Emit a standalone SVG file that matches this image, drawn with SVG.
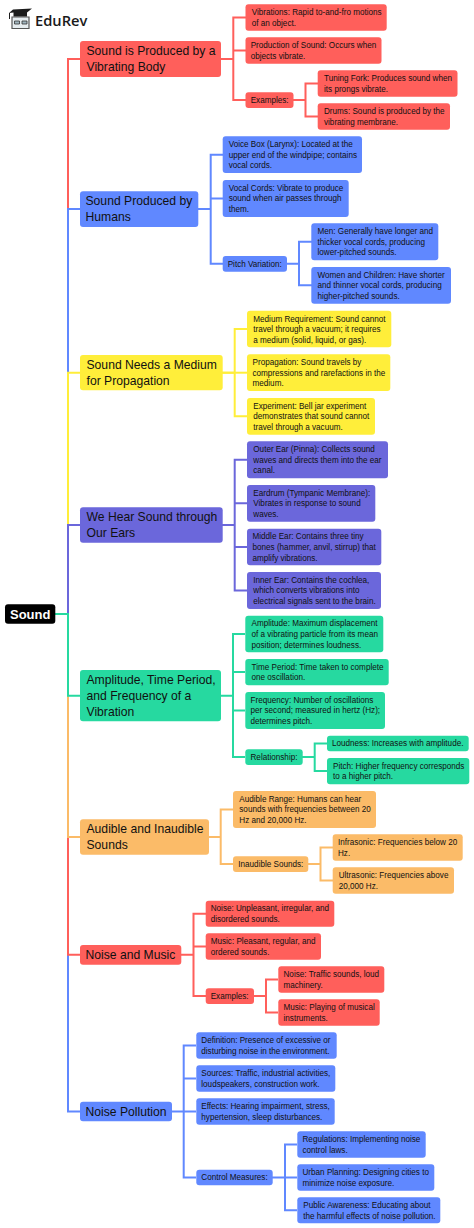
<svg xmlns="http://www.w3.org/2000/svg" width="474" height="1228" viewBox="0 0 474 1228">
<style>
text{font-family:"Liberation Sans",Arial,sans-serif;fill:#111}
.t1{font-size:12.17px}
.t2{font-size:8.13px}
.root{font-size:13px;font-weight:bold;fill:#fff}
.brand{font-family:"Open Sans","Noto Sans",sans-serif;font-size:14.7px;font-weight:600;fill:#1a1a1a}
rect{rx:3px;ry:3px}
.c path{fill:none;stroke-width:2}
.red{fill:#ff5f5b}.blue{fill:#6088ff}.yel{fill:#ffee3a}.pur{fill:#6b67db}.grn{fill:#26d9a0}.org{fill:#fbbb68}
.sr{stroke:#ff5f5b}.sb{stroke:#6088ff}.sy{stroke:#ffee3a}.sp{stroke:#6b67db}.sg{stroke:#26d9a0}.so{stroke:#fbbb68}
</style>
<g id="logo">
<path d="M12 17 H29 V28.500 H12 Z" fill="#e6edf0" stroke="#555" stroke-width="1.200"/>
<path d="M14.500 21 h5 v3 h-5 Z M22 21 h5 v3 h-5 Z" fill="#9fb4bd" stroke="#333" stroke-width=".8"/>
<path d="M13 9.500 L32 8.500 L27 12.500 V16.500 H13.500 V12.500 L9 13 Z" fill="#1c1c1c"/>
<path d="M9.500 13 V19" stroke="#1c1c1c" stroke-width="1"/>
<text class="brand" x="35" y="26">EduRev</text>
</g>
<g id="connectors" class="c">
<path class="sr" d="M55 614H68V59H80"/>
<path class="sb" d="M55 614H68V209H80"/>
<path class="sy" d="M55 614H68V372.700H80"/>
<path class="sp" d="M55 614H68V525H80"/>
<path class="sb" d="M55 614H68V1111.500H80"/>
<path class="sr" d="M55 614H68V954.800H80"/>
<path class="so" d="M55 614H68V837H80"/>
<path class="sg" d="M55 614H68V695.700H80"/>
<path class="sr" d="M221 59H233.300V17.500H246M221 59H233.300V50.500H246M221 59H233.300V100H246"/>
<path class="sr" d="M293 100H305.500V83.500H318M293 100H305.500V116.500H318"/>
<path class="sb" d="M198 209H210.700V154.700H223M198 209H210.700V198.500H223M198 209H210.700V263.800H223"/>
<path class="sb" d="M287 263.800H299V241.800H312M287 263.800H299V285.300H312"/>
<path class="sy" d="M222 372.700H234.700V329H247M222 372.700H234.700V416.300H247"/>
<path class="sy" d="M222 372.700H247"/>
<path class="sp" d="M222 525H234.700V459.800H247M222 525H234.700V503.300H247M222 525H234.700V547H247M222 525H234.700V590.500H247"/>
<path class="sg" d="M221 695.700H233V634H245M221 695.700H233V672H245M221 695.700H233V710.500H245M221 695.700H233V757H245"/>
<path class="sg" d="M302 757H314.700V743.500H327M302 757H314.700V771H327"/>
<path class="so" d="M209 837H220.700V809.500H233M209 837H220.700V864H233"/>
<path class="so" d="M308 864H320.500V847.500H333M308 864H320.500V880.500H333"/>
<path class="sr" d="M181 954.800H193.500V913.700H206M181 954.800H193.500V946.500H206M181 954.800H193.500V996H206"/>
<path class="sr" d="M254 996H266V979.500H278M254 996H266V1012.500H278"/>
<path class="sb" d="M172 1111.500H183.700V1045.500H196M172 1111.500H183.700V1078.500H196M172 1111.500H196M172 1111.500H183.700V1177.500H196"/>
<path class="sb" d="M272 1177.500H285V1144.500H297M272 1177.500H297M272 1177.500H285V1210.300H297"/>
</g>
<g id="root"><rect x="5" y="604.300" width="50.300" height="19.400" style="fill:#000"/><text class="root" x="10" y="618.600">Sound</text></g>

<g id="n1"><rect class="red" x="80" y="41" width="141" height="36"/><text class="t1" x="86.500" y="54.800">Sound is Produced by a<tspan x="86.500" dy="16">Vibrating Body</tspan></text></g>
<g id="n1-1"><rect class="red" x="245.500" y="4.300" width="141.200" height="26.400"/><text class="t2" x="251.700" y="15.200">Vibrations: Rapid to-and-fro motions<tspan x="251.700" dy="10.670">of an object.</tspan></text></g>
<g id="n1-2"><rect class="red" x="245.500" y="37.300" width="136" height="26.400"/><text class="t2" x="250.700" y="48.200">Production of Sound: Occurs when<tspan x="250.700" dy="10.670">objects vibrate.</tspan></text></g>
<g id="n1-3"><rect class="red" x="245.500" y="92.300" width="48" height="15.700"/><text class="t2" x="250.700" y="103">Examples:</text></g>
<g id="n1-3-1"><rect class="red" x="317.700" y="70.300" width="139.800" height="26.400"/><text class="t2" x="324" y="81.200">Tuning Fork: Produces sound when<tspan x="324" dy="10.670">its prongs vibrate.</tspan></text></g>
<g id="n1-3-2"><rect class="red" x="317.700" y="103.300" width="132.300" height="26.400"/><text class="t2" x="324" y="114.200">Drums: Sound is produced by the<tspan x="324" dy="10.670">vibrating membrane.</tspan></text></g>

<g id="n2"><rect class="blue" x="80" y="191.300" width="118.300" height="35.700"/><text class="t1" x="85.500" y="205.100">Sound Produced by<tspan x="85.500" dy="16">Humans</tspan></text></g>
<g id="n2-1"><rect class="blue" x="222.700" y="136.300" width="139.300" height="36.700"/><text class="t2" x="228.700" y="147">Voice Box (Larynx): Located at the<tspan x="228.700" dy="10.670">upper end of the windpipe; contains</tspan><tspan x="228.700" dy="10.670">vocal cords.</tspan></text></g>
<g id="n2-2"><rect class="blue" x="222.700" y="180" width="126" height="37"/><text class="t2" x="228.700" y="190.600">Vocal Cords: Vibrate to produce<tspan x="228.700" dy="10.670">sound when air passes through</tspan><tspan x="228.700" dy="10.670">them.</tspan></text></g>
<g id="n2-3"><rect class="blue" x="222.700" y="256" width="64.300" height="15.700"/><text class="t2" x="227.700" y="266.700">Pitch Variation:</text></g>
<g id="n2-3-1"><rect class="blue" x="311.300" y="223.300" width="127" height="37"/><text class="t2" x="317.500" y="234">Men: Generally have longer and<tspan x="317.500" dy="10.670">thicker vocal cords, producing</tspan><tspan x="317.500" dy="10.670">lower-pitched sounds.</tspan></text></g>
<g id="n2-3-2"><rect class="blue" x="311.300" y="267" width="139.700" height="36.700"/><text class="t2" x="317.500" y="277.600">Women and Children: Have shorter<tspan x="317.500" dy="10.670">and thinner vocal cords, producing</tspan><tspan x="317.500" dy="10.670">higher-pitched sounds.</tspan></text></g>

<g id="n3"><rect class="yel" x="80" y="355" width="142.700" height="35.300"/><text class="t1" x="86.500" y="368.700">Sound Needs a Medium<tspan x="86.500" dy="16">for Propagation</tspan></text></g>
<g id="n3-1"><rect class="yel" x="247" y="310.700" width="144.300" height="36.600"/><text class="t2" x="253.300" y="321.500">Medium Requirement: Sound cannot<tspan x="253.300" dy="10.670">travel through a vacuum; it requires</tspan><tspan x="253.300" dy="10.670">a medium (solid, liquid, or gas).</tspan></text></g>
<g id="n3-2"><rect class="yel" x="247" y="354.300" width="143.300" height="36.700"/><text class="t2" x="252.500" y="365">Propagation: Sound travels by<tspan x="252.500" dy="10.670">compressions and rarefactions in the</tspan><tspan x="252.500" dy="10.670">medium.</tspan></text></g>
<g id="n3-3"><rect class="yel" x="247" y="398" width="128" height="36.700"/><text class="t2" x="253.300" y="408.700">Experiment: Bell jar experiment<tspan x="253.300" dy="10.670">demonstrates that sound cannot</tspan><tspan x="253.300" dy="10.670">travel through a vacuum.</tspan></text></g>

<g id="n4"><rect class="pur" x="80" y="507.300" width="142.700" height="35.400"/><text class="t1" x="86.500" y="521">We Hear Sound through<tspan x="86.500" dy="16">Our Ears</tspan></text></g>
<g id="n4-1"><rect class="pur" x="247" y="441.300" width="141" height="37"/><text class="t2" x="253.300" y="452">Outer Ear (Pinna): Collects sound<tspan x="253.300" dy="10.670">waves and directs them into the ear</tspan><tspan x="253.300" dy="10.670">canal.</tspan></text></g>
<g id="n4-2"><rect class="pur" x="247" y="485" width="128.300" height="36.700"/><text class="t2" x="253.300" y="495.600">Eardrum (Tympanic Membrane):<tspan x="253.300" dy="10.670">Vibrates in response to sound</tspan><tspan x="253.300" dy="10.670">waves.</tspan></text></g>
<g id="n4-3"><rect class="pur" x="247" y="528.700" width="134.300" height="36.600"/><text class="t2" x="252.500" y="539.300">Middle Ear: Contains three tiny<tspan x="252.500" dy="10.670">bones (hammer, anvil, stirrup) that</tspan><tspan x="252.500" dy="10.670">amplify vibrations.</tspan></text></g>
<g id="n4-4"><rect class="pur" x="247" y="572" width="134" height="37"/><text class="t2" x="253.300" y="582.700">Inner Ear: Contains the cochlea,<tspan x="253.300" dy="10.670">which converts vibrations into</tspan><tspan x="253.300" dy="10.670">electrical signals sent to the brain.</tspan></text></g>

<g id="n5"><rect class="grn" x="80" y="670" width="141" height="51.300"/><text class="t1" x="86.500" y="683.700">Amplitude, Time Period,<tspan x="86.500" dy="16">and Frequency of a</tspan><tspan x="86.500" dy="16">Vibration</tspan></text></g>
<g id="n5-1"><rect class="grn" x="245.300" y="615.700" width="138" height="36.600"/><text class="t2" x="251.500" y="626.300">Amplitude: Maximum displacement<tspan x="251.500" dy="10.670">of a vibrating particle from its mean</tspan><tspan x="251.500" dy="10.670">position; determines loudness.</tspan></text></g>
<g id="n5-2"><rect class="grn" x="245.300" y="659" width="143.400" height="26.300"/><text class="t2" x="251.500" y="669.700">Time Period: Time taken to complete<tspan x="251.500" dy="10.670">one oscillation.</tspan></text></g>
<g id="n5-3"><rect class="grn" x="245.300" y="692" width="139.700" height="37"/><text class="t2" x="250.500" y="702.700">Frequency: Number of oscillations<tspan x="250.500" dy="10.670">per second; measured in hertz (Hz);</tspan><tspan x="250.500" dy="10.670">determines pitch.</tspan></text></g>
<g id="n5-4"><rect class="grn" x="245.300" y="749.300" width="57.400" height="15.700"/><text class="t2" x="250.500" y="760">Relationship:</text></g>
<g id="n5-4-1"><rect class="grn" x="327" y="735.700" width="141.700" height="15.600"/><text class="t2" x="332" y="746.400">Loudness: Increases with amplitude.</text></g>
<g id="n5-4-2"><rect class="grn" x="327" y="758" width="142.300" height="26.300"/><text class="t2" x="333" y="768.700">Pitch: Higher frequency corresponds<tspan x="333" dy="10.670">to a higher pitch.</tspan></text></g>

<g id="n6"><rect class="org" x="80" y="819.300" width="129" height="35.400"/><text class="t1" x="86.500" y="833">Audible and Inaudible<tspan x="86.500" dy="16">Sounds</tspan></text></g>
<g id="n6-1"><rect class="org" x="233" y="791" width="143" height="37"/><text class="t2" x="239.300" y="801.700">Audible Range: Humans can hear<tspan x="239.300" dy="10.670">sounds with frequencies between 20</tspan><tspan x="239.300" dy="10.670">Hz and 20,000 Hz.</tspan></text></g>
<g id="n6-2"><rect class="org" x="233" y="856.300" width="75.300" height="15.700"/><text class="t2" x="238.300" y="867">Inaudible Sounds:</text></g>
<g id="n6-2-1"><rect class="org" x="332.700" y="834.300" width="130" height="26.400"/><text class="t2" x="338" y="845.100">Infrasonic: Frequencies below 20<tspan x="338" dy="10.670">Hz.</tspan></text></g>
<g id="n6-2-2"><rect class="org" x="332.700" y="867.300" width="121.300" height="26.400"/><text class="t2" x="338.700" y="878.100">Ultrasonic: Frequencies above<tspan x="338.700" dy="10.670">20,000 Hz.</tspan></text></g>

<g id="n7"><rect class="red" x="80" y="945" width="101.300" height="19.700"/><text class="t1" x="85.500" y="959">Noise and Music</text></g>
<g id="n7-1"><rect class="red" x="205.700" y="900.700" width="128.600" height="26"/><text class="t2" x="210.700" y="911.400">Noise: Unpleasant, irregular, and<tspan x="210.700" dy="10.670">disordered sounds.</tspan></text></g>
<g id="n7-2"><rect class="red" x="205.700" y="933.300" width="115.300" height="26.400"/><text class="t2" x="210.700" y="944.100">Music: Pleasant, regular, and<tspan x="210.700" dy="10.670">ordered sounds.</tspan></text></g>
<g id="n7-3"><rect class="red" x="205.700" y="988.300" width="48.300" height="15.700"/><text class="t2" x="210.700" y="999">Examples:</text></g>
<g id="n7-3-1"><rect class="red" x="278.300" y="966.300" width="106" height="26.400"/><text class="t2" x="283.500" y="977.100">Noise: Traffic sounds, loud<tspan x="283.500" dy="10.670">machinery.</tspan></text></g>
<g id="n7-3-2"><rect class="red" x="278.300" y="999.300" width="101.400" height="26.400"/><text class="t2" x="283.500" y="1010.100">Music: Playing of musical<tspan x="283.500" dy="10.670">instruments.</tspan></text></g>

<g id="n8"><rect class="blue" x="80" y="1101.700" width="92" height="19.600"/><text class="t1" x="85.500" y="1115.700">Noise Pollution</text></g>
<g id="n8-1"><rect class="blue" x="196.300" y="1032.300" width="140.400" height="26.400"/><text class="t2" x="201.300" y="1043.100">Definition: Presence of excessive or<tspan x="201.300" dy="10.670">disturbing noise in the environment.</tspan></text></g>
<g id="n8-2"><rect class="blue" x="196.300" y="1065.300" width="139" height="26.400"/><text class="t2" x="201.300" y="1076.100">Sources: Traffic, industrial activities,<tspan x="201.300" dy="10.670">loudspeakers, construction work.</tspan></text></g>
<g id="n8-3"><rect class="blue" x="196.300" y="1098.300" width="138.400" height="26.400"/><text class="t2" x="201.300" y="1109.100">Effects: Hearing impairment, stress,<tspan x="201.300" dy="10.670">hypertension, sleep disturbances.</tspan></text></g>
<g id="n8-4"><rect class="blue" x="196.300" y="1169.700" width="76.400" height="15.600"/><text class="t2" x="201.300" y="1180.400">Control Measures:</text></g>
<g id="n8-4-1"><rect class="blue" x="297.300" y="1131.300" width="128.400" height="26.400"/><text class="t2" x="302.500" y="1142.100">Regulations: Implementing noise<tspan x="302.500" dy="10.670">control laws.</tspan></text></g>
<g id="n8-4-2"><rect class="blue" x="297.300" y="1164.300" width="137" height="26.400"/><text class="t2" x="302.500" y="1175.100">Urban Planning: Designing cities to<tspan x="302.500" dy="10.670">minimize noise exposure.</tspan></text></g>
<g id="n8-4-3"><rect class="blue" x="297.300" y="1197.300" width="143" height="26"/><text class="t2" x="303.300" y="1208.100">Public Awareness: Educating about<tspan x="303.300" dy="10.670">the harmful effects of noise pollution.</tspan></text></g>
</svg>
